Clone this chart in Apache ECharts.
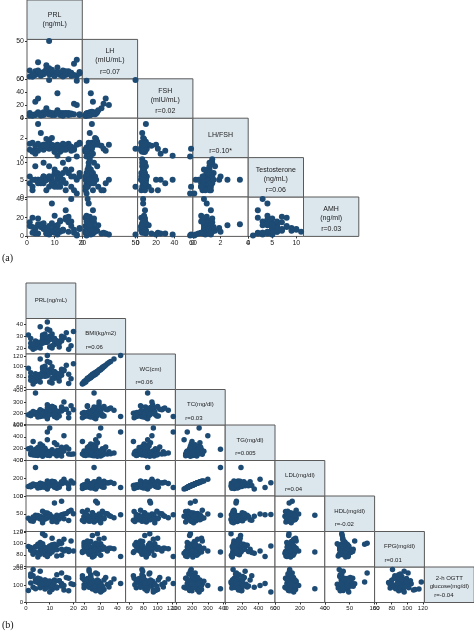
<!DOCTYPE html>
<html><head><meta charset="utf-8">
<script src="https://cdn.jsdelivr.net/npm/echarts@6/dist/echarts.min.js"></script>
<style>html,body{margin:0;padding:0;background:#fff}#main{width:474px;height:631px}</style>
</head><body><div id="main"></div>
<script>
// panel (a): hormones, one entry per subject
var prlA = [3,5,8,12,15,2,7,10,18,6,4,9,13,16,11,1,14,17,19,5,8,10,3,6,12,15,7,9,11,13,4,2,16,18,8,6,10,14,5,9,12,3,7,11,17,15,13,1,6,8,10,4,19,14,9,2,11,16,7,5];
var lhA = [5,8,50,6,10,3,12,7,4,9,22,6,11,5,8,3,7,20,9,6,14,4,10,8,5,7,13,6,9,4,11,3,8,25,6,7,5,10,4,12,8,6,9,15,5,7,3,11,6,8,4,9,7,5,10,6,8,4,18,7];
var fshA = [6,7,58,5,8,4,9,6,57,7,30,5,8,6,38,4,7,22,6,5,9,7,25,6,8,5,7,6,10,4,8,5,7,20,6,9,5,8,4,6,7,5,9,12,6,7,4,8,5,6,7,9,5,6,8,4,7,6,15,5];
var ratioA = [0.8,1.1,0.9,1.2,1.3,0.7,1.3,1.2,0.1,1.3,0.7,1.2,1.4,0.8,0.2,0.8,1.0,0.9,1.5,1.2,1.6,0.6,0.4,1.3,0.6,1.4,1.9,1.0,0.9,1.0,1.4,0.6,1.1,1.3,1.0,0.8,1.0,1.3,1.0,2.0,1.1,1.2,1.0,1.3,0.8,1.0,0.8,1.4,1.2,1.3,0.6,3.4,1.4,0.8,1.3,1.5,1.1,0.7,1.2,2.5];
var testoA = [5,4,3,6,7,2,5,8,1,6,4,5,10,3,5,6,4,2,7,5,9,4,5,6,3,11,5,4,6,7,5,3,8,5,6,4,7,2,5,6,4,9,5,3,6,7,5,4,10,6,3,5,6,8,4,5,7,6,2,5];
var amhA = [8,12,2,5,15,20,6,10,1,9,3,14,7,40,2,11,18,4,8,13,6,22,3,10,16,5,9,35,12,7,19,4,11,2,8,14,6,28,10,5,17,9,3,12,7,21,6,15,8,11,4,13,9,20,5,10,7,16,3,12];

// panel (b): metabolic
var prlB = [4,9,12,6,15,2,8,11,18,7,3,10,14,16,5,1,13,19,9,6,11,4,7,17,12,8,10,2,15,6,9,13,5,20,8,11,3,7,14,10,6,12,9,4,16,8,2,11,7,13,5,9,18,10,6,12,3,8,15,7];
var bmiB = [22,25,28,20,30,24,26,32,19,27,23,35,21,29,25,31,24,22,27,38,20,26,28,33,23,25,30,21,27,24,29,26,22,34,25,28,19,31,24,27,23,26,42,20,29,25,28,22,30,26,24,36,27,21,25,28,23,32,26,24];
var wcB = [75,82,90,70,95,80,85,100,67,88,78,108,72,92,84,97,78,76,86,115,68,86,89,103,77,83,94,73,89,81,93,84,74,106,82,91,66,99,79,87,79,85,122,71,94,81,88,77,96,87,80,110,85,70,85,90,76,101,83,82];
var tcB = [190,210,250,170,230,200,180,260,160,220,195,240,175,300,205,185,215,265,150,225,200,380,190,235,170,210,245,180,220,195,275,160,205,230,185,250,200,175,215,240,190,225,170,205,235,195,180,260,210,220,165,245,200,185,230,190,215,175,255,200];
var tgB = [140,90,300,160,75,210,120,180,110,250,95,150,130,420,85,200,165,105,350,125,145,190,70,230,115,170,550,100,135,280,155,80,220,110,185,130,320,95,175,140,240,120,480,90,160,205,125,150,100,265,145,115,195,85,170,130,155,110,225,140];
var ldlB = [115,130,160,95,145,120,105,165,85,135,118,150,100,190,125,108,130,170,80,140,122,320,112,148,98,128,150,108,138,115,170,88,124,146,110,158,118,102,132,152,116,140,96,126,150,118,104,160,130,136,90,155,120,112,145,114,134,100,160,124];
var hdlB = [38,52,33,41,47,30,44,36,56,40,29,45,35,49,42,37,31,60,43,39,28,46,34,51,40,36,48,33,85,42,38,27,45,50,35,41,32,57,39,44,37,30,47,42,36,53,34,40,25,46,39,43,31,48,35,80,41,38,45,33];
var fpgB = [95,84,90,102,79,93,88,110,86,97,81,92,100,87,76,95,89,105,83,91,98,85,118,90,94,80,96,88,101,86,92,78,99,87,115,93,84,90,104,82,96,89,77,94,108,88,91,85,100,97,83,92,89,95,81,99,86,93,90,87];
var ogttB = [120,95,130,85,110,150,100,75,140,105,190,90,125,98,115,70,160,108,88,135,102,80,118,145,92,128,60,112,170,96,122,84,138,104,78,116,155,94,126,100,180,86,110,132,72,120,165,98,106,90,140,114,68,124,102,118,88,130,96,108];

var varsA = [
  {d: prlA, min: 0, max: 20, ticks: [0,10,20], label: 'PRL\n(ng/mL)', r: ''},
  {d: lhA, min: 0, max: 52, ticks: [0,50], label: 'LH\n(mIU/mL)', r: 'r=0.07'},
  {d: fshA, min: 0, max: 60, ticks: [0,20,40,60], label: 'FSH\n(mIU/mL)', r: 'r=0.02'},
  {d: ratioA, min: 0, max: 4, ticks: [0,2,4], label: 'LH/FSH', r: 'r=0.10*'},
  {d: testoA, min: 0, max: 11.5, ticks: [0,5,10], label: 'Testosterone\n(ng/mL)', r: 'r=0.06'},
  {d: amhA, min: 0, max: 42, ticks: [0,20,40], label: 'AMH\n(ng/ml)', r: 'r=0.03'}
];
var varsB = [
  {d: prlB, min: 0, max: 21, ticks: [0,10,20], label: 'PRL(ng/mL)', r: ''},
  {d: bmiB, min: 15, max: 45, ticks: [20,30,40], label: 'BMI(kg/m2)', r: 'r=0.06'},
  {d: wcB, min: 55, max: 125, ticks: [60,80,100,120], label: 'WC(cm)', r: 'r=0.06'},
  {d: tcB, min: 95, max: 410, ticks: [100,200,300,400], label: 'TC(mg/dl)', r: 'r=0.03'},
  {d: tgB, min: 0, max: 600, ticks: [0,200,400,600], label: 'TG(mg/dl)', r: 'r=0.005'},
  {d: ldlB, min: 0, max: 400, ticks: [0,200,400], label: 'LDL(mg/dl)', r: 'r=0.04'},
  {d: hdlB, min: 0, max: 100, ticks: [0,50,100], label: 'HDL(mg/dl)', r: 'r=-0.02'},
  {d: fpgB, min: 58, max: 122, ticks: [60,80,100,120], label: 'FPG(mg/dl)', r: 'r=0.01'},
  {d: ogttB, min: 0, max: 205, ticks: [0,100,200], label: '2-h OGTT\nglucose(mg/dl)', r: 'r=-0.04'}
];

var grids = [], xAxes = [], yAxes = [], series = [], graphics = [];
var ptColor = '#1d4b74', boxColor = '#dbe6ed', lineColor = '#5a5a5a';
var font = 'Liberation Sans';

function buildMatrix(vars, x0, y0, cw, ch, fs, symSize) {
  var n = vars.length;
  for (var r = 0; r < n; r++) {
    // diagonal label box
    var bx = x0 + r * cw, by = y0 + r * ch;
    graphics.push({type: 'rect', shape: {x: bx, y: by, width: cw, height: ch},
      style: {fill: boxColor, stroke: lineColor, lineWidth: 1}});
    var two = vars[r].r !== '';
    graphics.push({type: 'text', x: bx + cw / 2, y: by + (two ? ch * 0.42 : ch / 2),
      style: {text: vars[r].label, fill: '#222', font: fs + 'px ' + font, align: 'center', verticalAlign: 'middle', lineHeight: fs + 2}});
    if (two) {
      graphics.push({type: 'text', x: bx + cw * (vars === varsA ? 0.5 : 0.2), y: by + ch - 7,
        style: {text: vars[r].r, fill: '#222', font: fs + 'px ' + font, align: vars === varsA ? 'center' : 'left', verticalAlign: 'middle'}});
    }
    for (var c = 0; c < r; c++) {
      var gi = grids.length;
      grids.push({left: x0 + c * cw, top: y0 + r * ch, width: cw, height: ch,
        show: true, borderColor: lineColor, borderWidth: 1, backgroundColor: '#fff'});
      var vx = vars[c], vy = vars[r];
      xAxes.push({type: 'value', gridIndex: gi, min: vx.min, max: vx.max, splitLine: {show: false},
        axisLine: {show: false},
        axisTick: {show: r === n - 1, length: 2, customValues: vx.ticks, lineStyle: {color: '#333'}},
        axisLabel: {show: r === n - 1, customValues: vx.ticks, fontSize: fs, fontFamily: font, color: '#222', margin: 3}});
      yAxes.push({type: 'value', gridIndex: gi, min: vy.min, max: vy.max, splitLine: {show: false},
        axisLine: {show: false},
        axisTick: {show: c === 0, length: 2, customValues: vy.ticks, lineStyle: {color: '#333'}},
        axisLabel: {show: c === 0, customValues: vy.ticks, fontSize: fs, fontFamily: font, color: '#222', margin: 3}});
      var pts = vx.d.map(function (v, i) { return [v, vy.d[i]]; });
      series.push({type: 'scatter', xAxisIndex: gi, yAxisIndex: gi, data: pts, symbolSize: symSize,
        itemStyle: {color: ptColor, opacity: 1}, silent: true, clip: true});
    }
  }
}

buildMatrix(varsA, 27, 0, 55.3, 39.4, 7, 6);
buildMatrix(varsB, 26, 283, 49.8, 35.5, 6, 5.5);

graphics.push({type: 'text', x: 2, y: 253, style: {text: '(a)', font: '10px Liberation Serif', fill: '#111'}});
graphics.push({type: 'text', x: 2, y: 620, style: {text: '(b)', font: '10px Liberation Serif', fill: '#111'}});

var chart = echarts.init(document.getElementById('main'));
chart.setOption({
  animation: false,
  grid: grids, xAxis: xAxes, yAxis: yAxes, series: series,
  graphic: graphics
});
</script></body></html>
